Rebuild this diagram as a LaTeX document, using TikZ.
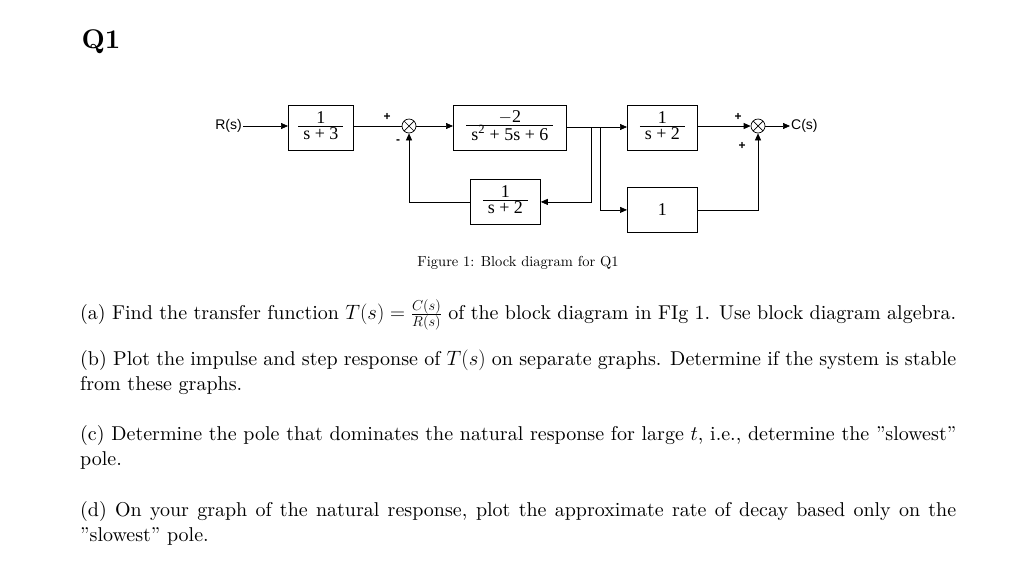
\documentclass[tikz,border=0pt]{standalone}
\usepackage{fontspec}
\setmainfont{lmroman10-regular.otf}[BoldFont=lmroman10-bold.otf,ItalicFont=lmroman10-italic.otf]
\newfontfamily\tms{Liberation Serif}
\newfontfamily\arl{Liberation Sans}
\usetikzlibrary{arrows.meta}
\begin{document}
\begin{tikzpicture}[x=1pt,y=-1pt,
  blk/.style={draw,line width=0.8pt,inner sep=0pt,anchor=north west},
  ln/.style={line width=0.7pt},
  ar/.style={ln,-{Triangle[length=7pt,width=6pt]}},
  sm/.style={draw,circle,line width=0.7pt,minimum size=14pt,inner sep=0pt,path picture={\draw (path picture bounding box.north west)--(path picture bounding box.south east) (path picture bounding box.north east)--(path picture bounding box.south west);}},
  lab/.style={font=\arl\fontsize{14}{14}\selectfont},
  sg/.style={font=\arl\bfseries\fontsize{12}{12}\selectfont,inner sep=0pt},
  par/.style={anchor=north west,inner sep=0pt,text width=876pt,align=justify,font=\fontsize{20}{25}\selectfont}]
\useasboundingbox (0,0) rectangle (1024,582);
\node[font=\bfseries\fontsize{27}{27}\selectfont,anchor=west] (q) at (78,42) {Q1};
\newcommand{\blkfr}[3]{\tms\fontsize{18}{18}\selectfont$\begin{array}{c}\mbox{#1}\\[-3pt]\hline\rule{0pt}{14pt}\mbox{#2}\end{array}$}
\node[blk,minimum width=65pt,minimum height=45pt] (b1) at (288,105) {};
\node at (b1.center) {\blkfr{1}{s + 3}{}};
\node[blk,minimum width=113pt,minimum height=45pt] (b2) at (453,105) {};
\node at (b2.center) {\blkfr{$-$2}{s\textsuperscript{2} + 5s + 6}{}};
\node[blk,minimum width=70pt,minimum height=45pt] (b3) at (627,105) {};
\node at (b3.center) {\blkfr{1}{s + 2}{}};
\node[blk,minimum width=70pt,minimum height=45pt] (b4) at (470,179) {};
\node at (b4.center) {\blkfr{1}{s + 2}{}};
\node[blk,minimum width=70pt,minimum height=45pt,font=\tms\fontsize{18}{18}\selectfont] (b5) at (627,187) {1};
\node[sm] (s1) at (409,126) {};
\node[sm] (s2) at (758,126) {};
\node[lab,anchor=east,inner sep=1pt] (r) at (243,126) {R(s)};
\node[lab,anchor=west,inner sep=1pt] (c) at (790,126) {C(s)};
\coordinate (p1) at (591,127);
\coordinate (p2) at (600,127);
\draw[ar] (r.east) -- (b1.west|-r);
\draw[ln] (b1.east|-s1) -- (s1);
\draw[ar] (s1) -- (b2.west|-s1);
\draw[ar] (b2.east|-p1) -- (b3.west|-p1);
\draw[ar] (p1) -- (p1|-b4.east) -- (b4.east);
\draw[ar] (p2) -- (p2|-b5.west) -- (b5.west);
\draw[ar] (b4.west) -- (s1|-b4.west) -- (s1.south);
\draw[ar] (b3.east|-s2) -- (s2.west);
\draw[ar] (b5.east) -- (s2|-b5.east) -- (s2.south);
\draw[ar] (s2.east) -- (c.west);
\node[sg] at (387,117) {+};
\node[sg] at (398,142) {-};
\node[sg] at (738,117) {+};
\node[sg] at (742,146) {+};
\node[font=\fontsize{14.5}{15}\selectfont] (cap) at (518,263) {Figure 1: Block diagram for Q1};
\node[par] (pa) at (80,299) {(a) Find the transfer function $T(s)=\frac{C(s)}{R(s)}$ of the block diagram in FIg 1. Use block diagram algebra.};
\node[par] (pb) at (80,350) {(b) Plot the impulse and step response of $T(s)$ on separate graphs. Determine if the system is stable from these graphs.};
\node[par] (pc) at (80,425) {(c) Determine the pole that dominates the natural response for large $t$, i.e., determine the "slowest" pole.};
\node[par] (pd) at (80,501) {(d) On your graph of the natural response, plot the approximate rate of decay based only on the "slowest" pole.};
\end{tikzpicture}
\end{document}
